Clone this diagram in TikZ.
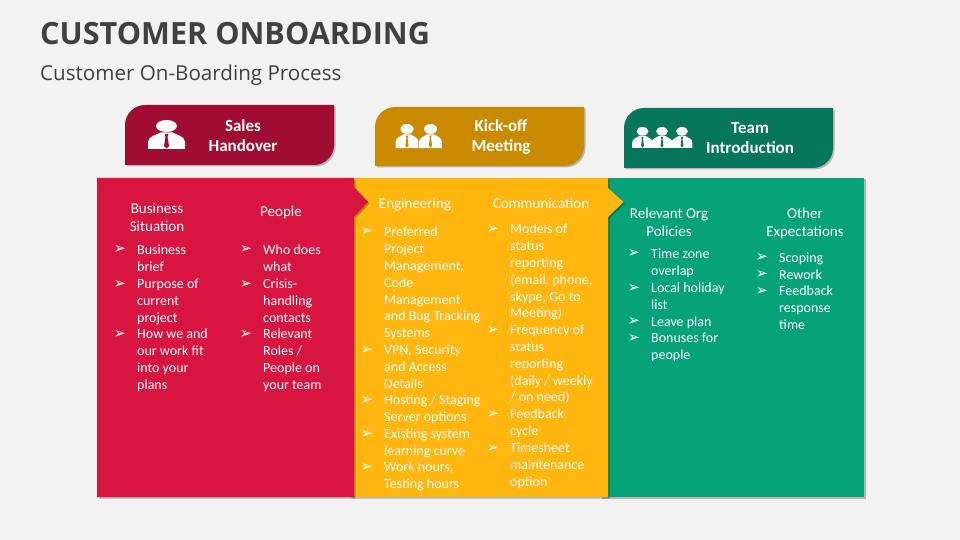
\documentclass[tikz,border=0pt]{standalone}
\usepackage{fontspec}
\setmainfont{Carlito}
\newfontfamily\titlefont{Open Sans}
\newfontfamily\symbolfont{DejaVu Sans}
\usetikzlibrary{shadows}

\definecolor{pagebg}{HTML}{F2F2F2}
\definecolor{titlegray}{HTML}{404040}
\definecolor{salesdark}{HTML}{A00D32}
\definecolor{salesred}{HTML}{D81540}
\definecolor{kickdark}{HTML}{C98A00}
\definecolor{kickyellow}{HTML}{FFB60F}
\definecolor{teamdark}{HTML}{06775A}
\definecolor{teamgreen}{HTML}{06A278}

\tikzset{
  softshadow/.style={drop shadow={shadow xshift=1.5pt, shadow yshift=-1.5pt, opacity=0.25, fill=black}},
  tabtext/.style={text=white, align=center, font=\fontsize{17}{20}\selectfont\bfseries},
  headtext/.style={text=white, align=center, font=\fontsize{15}{18}\selectfont},
  itemtext/.style={text=white, anchor=north west, yshift=4.5pt, inner sep=0pt, align=left,
    font=\fontsize{14}{16.9}\selectfont, execute at begin node=\strut},
  itemarrow/.style={text=white, inner sep=0pt, yshift=-1pt, font=\symbolfont\fontsize{15}{15}\selectfont},
  person/.pic={
    \fill[white] (0,6) ellipse (10.5 and 6);
    \fill[white] (-18.5,29) -- (-18.5,22) .. controls (-18.5,16) and (-10,15) .. (-6,12.5)
      -- (6,12.5) .. controls (10,15) and (18.5,16) .. (18.5,22) -- (18.5,29) -- cycle;
    \fill[#1] (-1.8,14) -- (1.8,14) -- (1,17) -- (2.5,26) -- (0,28.5) -- (-2.5,26) -- (-1,17) -- cycle;
  }
}

\begin{document}
\begin{tikzpicture}[x=1pt, y=-1pt]
\fill[pagebg] (0,0) rectangle (960,540);

% title
\node[anchor=west, inner sep=0pt, text=titlegray, font=\titlefont\fontsize{30.6}{36}\selectfont\bfseries] (title) at (40,34) {CUSTOMER ONBOARDING};
\node[anchor=west, inner sep=0pt, text=titlegray, font=\titlefont\fontsize{20.6}{24}\selectfont] (subtitle) at (40,75.5) {Customer On-Boarding Process};

% tabs
\fill[salesdark, softshadow] (125,165) -- (125,125) .. controls (125,114) and (134,105) .. (145,105) -- (334,105) -- (334,145) .. controls (334,156) and (325,165) .. (314,165) -- cycle;
\fill[kickdark, softshadow] (375,166) -- (375,127) .. controls (375,116) and (384,107) .. (395,107) -- (584,107) -- (584,146) .. controls (584,157) and (575,166) .. (564,166) -- cycle;
\fill[teamdark, softshadow] (624,168) -- (624,128) .. controls (624,117) and (633,108) .. (644,108) -- (833,108) -- (833,148) .. controls (833,159) and (824,168) .. (813,168) -- cycle;

\node[tabtext] (sales) at (243,136) {Sales\\Handover};
\node[tabtext] (kickoff) at (501,137) {Kick-off\\Meeting};
\node[tabtext] (team) at (750,138) {Team\\Introduction};

% people icons
\pic at (166.5,120) {person=salesdark};
\pic[xscale=0.62, yscale=0.83] at (407,124) {person=kickdark};
\pic[xscale=0.62, yscale=0.83] at (430.5,124) {person=kickdark};
\pic[xscale=0.56, yscale=0.72] at (642.5,127) {person=teamdark};
\pic[xscale=0.56, yscale=0.72] at (662,127) {person=teamdark};
\pic[xscale=0.56, yscale=0.72] at (682,127) {person=teamdark};

% panels
\fill[teamgreen, softshadow] (600,178) rectangle (864,497);
\fill[kickyellow, softshadow] (350,178) -- (608,178) -- (608,188) -- (623.5,202) -- (608,217) -- (608,497) -- (350,497) -- cycle;
\fill[salesred, softshadow] (97,178) -- (354,178) -- (354,187) -- (368,202) -- (354,217) -- (354,497) -- (97,497) -- cycle;

% first panel
\node[headtext] (business) at (157,217) {Business\\Situation};
\node[headtext] (people) at (281,213) {People};

\node[itemarrow] (a1) at (120,249) {➢};
\node[itemtext] (t1) at (137,249) {Business\\brief};
\node[itemarrow] (a2) at (120,283) {➢};
\node[itemtext] (t2) at (137,283) {Purpose of\\current\\project};
\node[itemarrow] (a3) at (120,333) {➢};
\node[itemtext] (t3) at (137,333) {How we and\\our work fit\\into your\\plans};

\node[itemarrow] (b1) at (246,249) {➢};
\node[itemtext] (u1) at (263,249) {Who does\\what};
\node[itemarrow] (b2) at (246,283) {➢};
\node[itemtext] (u2) at (263,283) {Crisis-\\handling\\contacts};
\node[itemarrow] (b3) at (246,333) {➢};
\node[itemtext] (u3) at (263,333) {Relevant\\Roles /\\People on\\your team};

% second panel
\node[headtext] (engineering) at (415,205) {Engineering};
\node[headtext] (communication) at (541,203.5) {Communication};

\node[itemarrow] (c1) at (367,231) {➢};
\node[itemtext] (v1) at (384,231) {Preferred\\Project\\Management,\\Code\\Management\\and Bug Tracking\\Systems};
\node[itemarrow] (c2) at (367,349) {➢};
\node[itemtext] (v2) at (384,349) {VPN, Security\\and Access\\Details};
\node[itemarrow] (c3) at (367,399) {➢};
\node[itemtext] (v3) at (384,399) {Hosting / Staging\\Server options};
\node[itemarrow] (c4) at (367,433) {➢};
\node[itemtext] (v4) at (384,433) {Existing system\\learning curve};
\node[itemarrow] (c5) at (367,466) {➢};
\node[itemtext] (v5) at (384,466) {Work hours,\\Testing hours};

\node[itemarrow] (d1) at (493,228) {➢};
\node[itemtext] (w1) at (510,228) {Models of\\status\\reporting\\(email, phone,\\skype, Go to\\Meeting)};
\node[itemarrow] (d2) at (493,329) {➢};
\node[itemtext] (w2) at (510,329) {Frequency of\\status\\reporting\\(daily / weekly\\/ on need)};
\node[itemarrow] (d3) at (493,413) {➢};
\node[itemtext] (w3) at (510,413) {Feedback\\cycle};
\node[itemarrow] (d4) at (493,447) {➢};
\node[itemtext] (w4) at (510,447) {Timesheet\\maintenance\\option};

% third panel
\node[headtext] (policies) at (669,222) {Relevant Org\\Policies};
\node[headtext] (expectations) at (805,223.5) {Other\\Expectations};

\node[itemarrow] (e1) at (634,253) {➢};
\node[itemtext] (x1) at (651,253) {Time zone\\overlap};
\node[itemarrow] (e2) at (634,287) {➢};
\node[itemtext] (x2) at (651,287) {Local holiday\\list};
\node[itemarrow] (e3) at (634,320) {➢};
\node[itemtext] (x3) at (651,318.5) {Leave plan};
\node[itemarrow] (e4) at (634,337) {➢};
\node[itemtext] (x4) at (651,337) {Bonuses for\\people};

\node[itemarrow] (f1) at (762,256) {➢};
\node[itemtext] (y1) at (779,254.5) {Scoping};
\node[itemarrow] (f2) at (762,273) {➢};
\node[itemtext] (y2) at (779,271.5) {Rework};
\node[itemarrow] (f3) at (762,290) {➢};
\node[itemtext] (y3) at (779,290) {Feedback\\response\\time};
\end{tikzpicture}
\end{document}
